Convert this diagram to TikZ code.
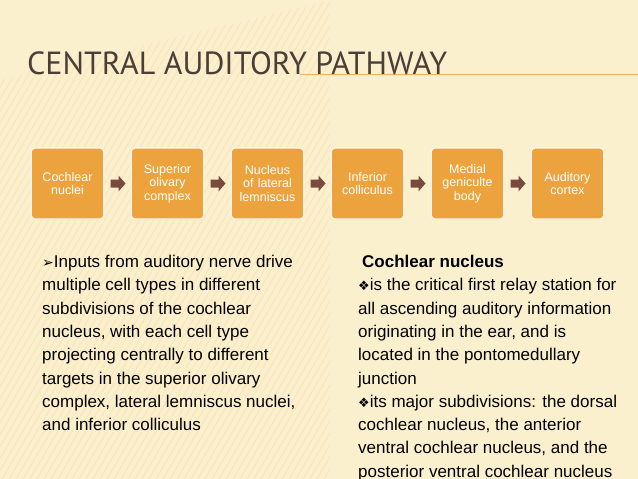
\documentclass[tikz,border=0pt]{standalone}
\usepackage{fontspec}
\setmainfont{Liberation Sans}
\newfontfamily\titlefont{PT Sans}
\newfontfamily\dejavu{DejaVu Sans}
\usetikzlibrary{calc}
\definecolor{bg}{HTML}{FBF0CE}
\definecolor{boxc}{HTML}{EDA33D}
\definecolor{arr}{HTML}{7A4B3C}
\definecolor{ttl}{HTML}{4A3F36}
\tikzset{
  stepbox/.style={draw=white!90!boxc, line width=1.2pt, fill=boxc, rounded corners=4pt,
    minimum width=69pt, minimum height=71pt, text width=66pt, align=center,
    text=white, font=\fontsize{12.5}{13.5}\selectfont},
  flow/.style={fill=arr, draw=none},
  body/.style={anchor=north west, align=left, inner sep=0pt,
    font=\fontsize{17}{23.3}\selectfont, text=black}
}
\newcommand{\flowarrow}[2]{\fill[flow] ($(#1.east)!0.5!(#2.west)+(-7pt,4pt)$) -- ++(8pt,0) -- ++(0,4pt) -- ++(7pt,-8pt) -- ++(-7pt,-8pt) -- ++(0,4pt) -- ++(-8pt,0) -- cycle;}
\begin{document}
\begin{tikzpicture}[x=1pt,y=-1pt]
\clip (0,0) rectangle (638,479);
\fill[bg] (0,0) rectangle (638,479);
\begin{scope}
\clip (0,479) -- (0,80) -- (330,0) -- (638,0) -- (638,479) -- cycle;
\foreach \i in {0,...,90}{
  \draw[orange!20!bg, line width=1pt] (-250+\i*7,479) -- (\i*7+30,0);
}
\end{scope}
\fill[bg, opacity=0.5] (0,0) rectangle (638,479);
\fill[bg] (330,0) rectangle (638,479);
\draw[orange!60!bg, line width=0.6pt] (300,74) -- (638,74);
\node[anchor=base west, inner sep=0pt, text=ttl, font=\titlefont\fontsize{32}{33}\selectfont] (title) at (27,74) {CENTRAL AUDITORY PATHWAY};
\node[stepbox] (b1) at (67.5,183.5) {Cochlear\\nuclei};
\node[stepbox] (b2) at (167.5,183.5) {Superior\\olivary\\complex};
\node[stepbox] (b3) at (267.5,183.5) {Nucleus\\of lateral\\lemniscus};
\node[stepbox] (b4) at (367.5,183.5) {Inferior\\colliculus};
\node[stepbox] (b5) at (467.5,183.5) {Medial\\geniculte\\body};
\node[stepbox] (b6) at (567.5,183.5) {Auditory\\cortex};
\flowarrow{b1}{b2}
\flowarrow{b2}{b3}
\flowarrow{b3}{b4}
\flowarrow{b4}{b5}
\flowarrow{b5}{b6}
\node[body] (left) at (42,255) {{\dejavu\fontsize{14}{14}\selectfont ➢}Inputs from auditory nerve drive\\multiple cell types in different\\subdivisions of the cochlear\\nucleus, with each cell type\\projecting centrally to different\\targets in the superior olivary\\complex, lateral lemniscus nuclei,\\and inferior colliculus};
\node[body] (right) at (358,255) {\hspace*{4pt}\textbf{Cochlear nucleus}\\{\dejavu\fontsize{13}{13}\selectfont ❖}is the critical first relay station for\\all ascending auditory information\\originating in the ear, and is\\located in the pontomedullary\\junction\\{\dejavu\fontsize{13}{13}\selectfont ❖}its major subdivisions: the dorsal\\cochlear nucleus, the anterior\\ventral cochlear nucleus, and the\\posterior ventral cochlear nucleus};
\end{tikzpicture}
\end{document}
